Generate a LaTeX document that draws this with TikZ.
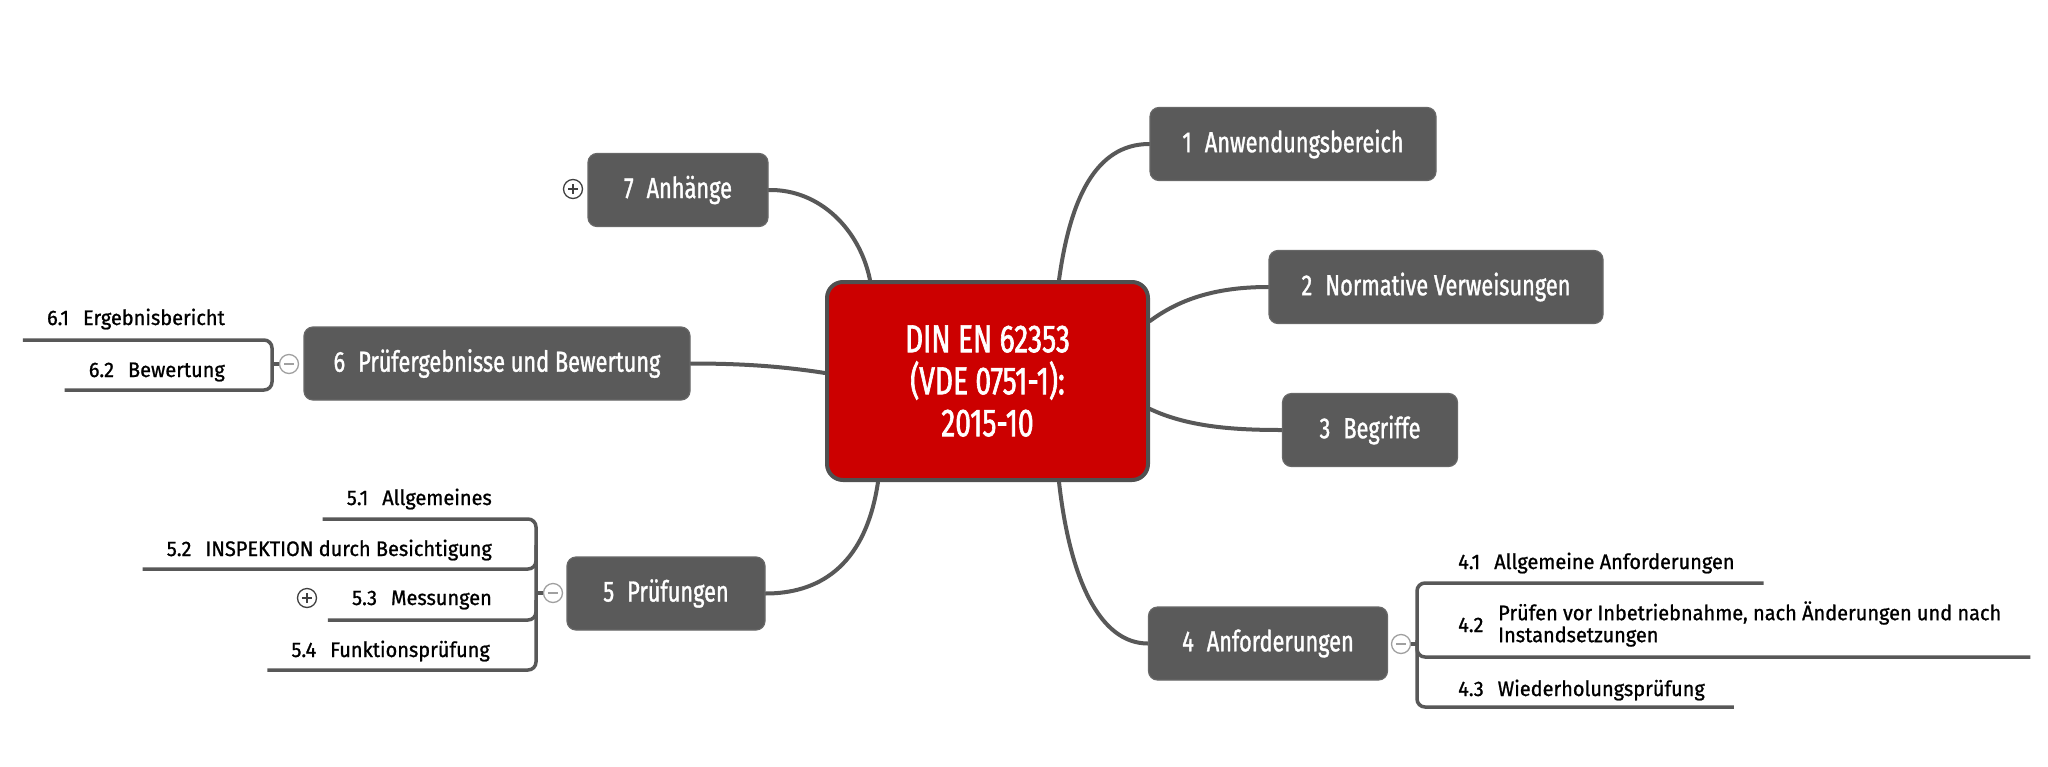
\documentclass[tikz,border=0pt]{standalone}
\usepackage{fontspec}
\setmainfont{Fira Sans}
\newfontfamily\topicfont{Fira Sans}[FakeStretch=0.75, FakeBold=1.2]
\newfontfamily\centralfont{Fira Sans}[FakeStretch=0.72, FakeBold=1.6]
\newfontfamily\subfont{Fira Sans}[FakeStretch=0.95, FakeBold=1.0]
\usetikzlibrary{calc}
\definecolor{cred}{HTML}{CC0000}
\definecolor{cgray}{HTML}{5A5A5A}
\definecolor{cedge}{HTML}{686868}
\definecolor{cline}{HTML}{585858}
\definecolor{cborder}{HTML}{505050}
\definecolor{cicon}{HTML}{A0A0A0}
\definecolor{cdark}{HTML}{404040}
\pgfdeclarelayer{background}
\pgfdeclarelayer{canvas}
\pgfsetlayers{canvas,background,main}
\tikzset{
  topic/.style={draw=cedge, line width=1.2pt, fill=cgray, rounded corners=9pt,
    text=white, font=\topicfont\fontsize{29}{34}\selectfont,
    minimum height=73pt, inner sep=0pt},
  central/.style={draw=cborder, line width=4pt, fill=cred, rounded corners=16pt,
    text=white, align=center, font=\centralfont\fontsize{39}{42}\selectfont,
    minimum width=321pt, minimum height=198pt, inner sep=0pt},
  sub/.style={font=\subfont\fontsize{21}{22}\selectfont, text=black, inner sep=0pt},
  conn/.style={draw=cline, line width=4pt, line cap=round},
  br/.style={draw=cline, line width=3.5pt, rounded corners=8pt},
  minusicon/.style={circle, draw=cicon, fill=white, line width=1.3pt,
    minimum size=19pt, inner sep=0pt,
    path picture={\draw[cicon, line width=1.8pt]
      ([xshift=-5pt]path picture bounding box.center) --
      ([xshift=5pt]path picture bounding box.center);}},
  plusicon/.style={circle, draw=cdark, fill=white, line width=1.3pt,
    minimum size=19pt, inner sep=0pt,
    path picture={\draw[cdark, line width=1.6pt]
      ([xshift=-5pt]path picture bounding box.center) --
      ([xshift=5pt]path picture bounding box.center)
      ([yshift=-5pt]path picture bounding box.center) --
      ([yshift=5pt]path picture bounding box.center);}}
}
\begin{document}
\begin{tikzpicture}[x=1pt,y=-1pt]
\begin{pgfonlayer}{canvas}
\fill[white] (0,0) rectangle (2048,766);
\end{pgfonlayer}
\useasboundingbox (0,0) rectangle (2048,766);

% central
\node[central] (c) at (987.5,381) {DIN EN 62353\\(VDE 0751-1):\\2015-10};

% main topics
\node[topic, minimum width=286pt] (n1) at (1293,144) {1\hspace{13pt}Anwendungsbereich};
\node[topic, minimum width=334pt] (n2) at (1436,287) {2\hspace{13pt}Normative Verweisungen};
\node[topic, minimum width=175pt] (n3) at (1370,430) {3\hspace{13pt}Begriffe};
\node[topic, minimum width=239pt] (n4) at (1268,643.5) {4\hspace{13pt}Anforderungen};
\node[topic, minimum width=198pt] (n5) at (666,593.5) {5\hspace{13pt}Prüfungen};
\node[topic, minimum width=386pt] (n6) at (497,363.5) {6\hspace{13pt}Prüfergebnisse und Bewertung};
\node[topic, minimum width=180pt] (n7) at (678,190) {7\hspace{13pt}Anhänge};

% icons
\node[plusicon] (p7) at (573,189) {};
\node[minusicon] (m6) at (289,364) {};
\node[minusicon] (m5) at (553,593) {};
\node[minusicon] (m4) at (1401,644) {};
\node[plusicon] (p53) at (307,598) {};

% subtopics of 6
\node[sub, anchor=base east] (t61) at (225,325) {6.1\hspace{14pt}Ergebnisbericht};
\node[sub, anchor=base east] (t62) at (225,377) {6.2\hspace{14pt}Bewertung};
% subtopics of 5
\node[sub, anchor=base east] (t51) at (492,505) {5.1\hspace{14pt}Allgemeines};
\node[sub, anchor=base east] (t52) at (492,556) {5.2\hspace{14pt}INSPEKTION durch Besichtigung};
\node[sub, anchor=base east] (t53) at (492,605) {5.3\hspace{14pt}Messungen};
\node[sub, anchor=base east] (t54) at (490,657) {5.4\hspace{14pt}Funktionsprüfung};
% subtopics of 4
\node[sub, anchor=base west] (t41) at (1458,569) {4.1\hspace{14pt}Allgemeine Anforderungen};
\node[sub, anchor=west] (t42n) at (1458,625) {4.2};
\node[sub, anchor=west, align=left] (t42) at (1498,624) {Prüfen vor Inbetriebnahme, nach Änderungen und nach\\Instandsetzungen};
\node[sub, anchor=base west] (t43) at (1458,696) {4.3\hspace{14pt}Wiederholungsprüfung};

% junction coordinates
\coordinate (j6) at (272,364);
\coordinate (j6a) at (272,340);
\coordinate (j6b) at (272,390);
\coordinate (j5) at (536,593);
\coordinate (j5a) at (536,519);
\coordinate (j5b) at (536,569);
\coordinate (j5c) at (536,620);
\coordinate (j5d) at (536,670);
\coordinate (j5e) at (536,545);
\coordinate (j5f) at (536,600);
\coordinate (j4) at (1417,644);
\coordinate (j4a) at (1417,583);
\coordinate (j4b) at (1417,657);
\coordinate (j4c) at (1417,707);
\coordinate (j4d) at (1417,640);

\begin{pgfonlayer}{background}
% main connectors
\draw[conn] ($(c.north west)+(45,0)$) .. controls (860,230) and (820,189) .. (n7.east);
\draw[conn] ($(c.north east)+(-91,0)$) .. controls (1070,200) and (1095,144) .. (n1.west);
\draw[conn] ($(c.north east)+(0,41)$) .. controls (1185,295) and (1225,287) .. (n2.west);
\draw[conn] ($(c.south east)+(0,-73)$) .. controls (1190,428) and (1240,430) .. (n3.west);
\draw[conn] ($(c.south east)+(-91,0)$) .. controls (1070,580) and (1100,643.5) .. (n4.west);
\draw[conn] ($(c.south west)+(53,0)$) .. controls (865,570) and (815,593.5) .. (n5.east);
\draw[conn] ($(c.west)+(0,-8)$) .. controls (780,366) and (740,363.5) .. (n6.east);
\end{pgfonlayer}

% brackets of 6
\draw[br] ($(t61.base west)+(-24,15)$) -- (j6a) -- (j6b) -- ($(t62.base west)+(-24,13)$);
\draw[br] (j6) -- (m6.west);
% brackets of 5
\draw[br] ($(t51.base west)+(-24,14)$) -- (j5a) -- (j5b) -- ($(t52.base west)+(-24,13)$);
\draw[br] (j5e) -- (j5c) -- ($(t53.base west)+(-24,15)$);
\draw[br] (j5f) -- (j5d) -- ($(t54.base west)+(-24,13)$);
\draw[br] (j5) -- (m5.west);
% brackets of 4
\draw[br] ($(t41.base east)+(29,14)$) -- (j4a) -- (j4b) -- ($(t42.east)+(29,33)$);
\draw[br] (j4d) -- (j4c) -- ($(t43.base east)+(29,11)$);
\draw[br] (j4) -- (m4.east);
\end{tikzpicture}
\end{document}
